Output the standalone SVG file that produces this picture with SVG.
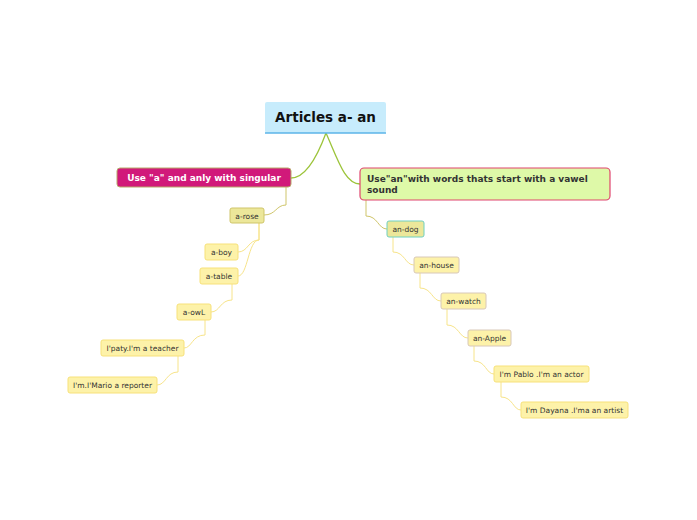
<svg xmlns="http://www.w3.org/2000/svg" width="697" height="520" viewBox="0 0 697 520">
<style>
text{font-family:"DejaVu Sans",Verdana,sans-serif;fill:#333}
.s{font-size:7.5px}
.y{fill:#fdf2a9;stroke:#f7e17a;stroke-width:1}
.c{fill:none;stroke:#f7e48a;stroke-width:1}
</style>
<rect width="697" height="520" fill="#fff"/>
<g id="connectors">
<path d="M326,133 C316,160 305,178 291,178" fill="none" stroke="#9cc43a" stroke-width="1.3"/>
<path d="M326,133 C338,160 345,184 360,184" fill="none" stroke="#9cc43a" stroke-width="1.3"/>
<path d="M286,187 V205 C276,205 276,215 264,215" fill="none" stroke="#cfc56a"/>
<path d="M259,223 V240 C248,240 248,252 238,252" class="c"/>
<path d="M259,223 V240 C248,240 248,276 238,276" class="c"/>
<path d="M232,284 V300 C220,300 220,312 211,312" class="c"/>
<path d="M205,320 V335 C192,335 192,348 184,348" class="c"/>
<path d="M178,356 V372 C166,372 166,385 157,385" class="c"/>
<path d="M366,200 V216 C378,216 378,229 387,229" fill="none" stroke="#cfc56a"/>
<path d="M393,237 V252 C405,252 405,265 414,265" class="c"/>
<path d="M420,273 V288 C432,288 432,301 441,301" class="c"/>
<path d="M447,309 V325 C459,325 459,338 468,338" class="c"/>
<path d="M474,346 V361 C486,361 486,374 494,374" class="c"/>
<path d="M501,382 V397 C513,397 513,410 521,410" class="c"/>
</g>
<g id="root"><rect x="265" y="102" width="121" height="31" rx="2" fill="#c7ecfc"/><line x1="265" y1="133" x2="386" y2="133" stroke="#5bb4e8" stroke-width="1.5"/><text x="325.5" y="122" text-anchor="middle" font-size="13.5" font-weight="bold" style="fill:#111">Articles a- an</text></g>
<g id="left"><rect x="117" y="168" width="174" height="19" rx="3" fill="#d1197a" stroke="#b8a86a"/><text x="204" y="181" text-anchor="middle" font-size="9" font-weight="bold" style="fill:#fff">Use "a" and anly with singular</text></g>
<g id="right"><rect x="360" y="168" width="250" height="32" rx="4" fill="#def9a8" stroke="#e0456e" stroke-width="1.2"/><text x="367" y="182" font-size="9" font-weight="bold">Use"an"with words thats start with a vawel</text><text x="367" y="193" font-size="9" font-weight="bold">sound</text></g>
<g id="arose"><rect x="230" y="208" width="34" height="15" rx="2" fill="#ece79a" stroke="#cfc56a"/><text class="s" x="247" y="218.5" text-anchor="middle">a-rose</text></g>
<g id="aboy"><rect class="y" x="205" y="244" width="33" height="16" rx="2"/><text class="s" x="221.5" y="255" text-anchor="middle">a-boy</text></g>
<g id="atable"><rect class="y" x="200" y="268" width="38" height="16" rx="2"/><text class="s" x="219" y="279" text-anchor="middle">a-table</text></g>
<g id="aowl"><rect class="y" x="177" y="304" width="34" height="16" rx="2"/><text class="s" x="194" y="315" text-anchor="middle">a-owL</text></g>
<g id="paty"><rect class="y" x="101" y="340" width="83" height="16" rx="2"/><text class="s" x="142.5" y="351" text-anchor="middle">I'paty.I'm a teacher</text></g>
<g id="mario"><rect class="y" x="68" y="377" width="89" height="16" rx="2"/><text class="s" x="112.5" y="388" text-anchor="middle">I'm.I'Mario a reporter</text></g>
<g id="andog"><rect x="387" y="221" width="37" height="16" rx="2" fill="#ece79a" stroke="#6fd0c0"/><text class="s" x="405.5" y="232" text-anchor="middle">an-dog</text></g>
<g id="anhouse"><rect x="414" y="257" width="45" height="16" rx="2" fill="#fdf2a9" stroke="#d8c8b8"/><text class="s" x="436.5" y="268" text-anchor="middle">an-house</text></g>
<g id="anwatch"><rect x="441" y="293" width="45" height="16" rx="2" fill="#fdf2a9" stroke="#d8c8b8"/><text class="s" x="463.5" y="304" text-anchor="middle">an-watch</text></g>
<g id="anapple"><rect x="468" y="330" width="43" height="16" rx="2" fill="#fdf2a9" stroke="#d8c8b8"/><text class="s" x="489.5" y="341" text-anchor="middle">an-Apple</text></g>
<g id="pablo"><rect class="y" x="494" y="366" width="95" height="16" rx="2"/><text class="s" x="541.5" y="377" text-anchor="middle">I'm Pablo .I'm an actor</text></g>
<g id="dayana"><rect class="y" x="521" y="402" width="107" height="16" rx="2"/><text class="s" x="574.5" y="413" text-anchor="middle">I'm Dayana .I'ma an artist</text></g>
</svg>
